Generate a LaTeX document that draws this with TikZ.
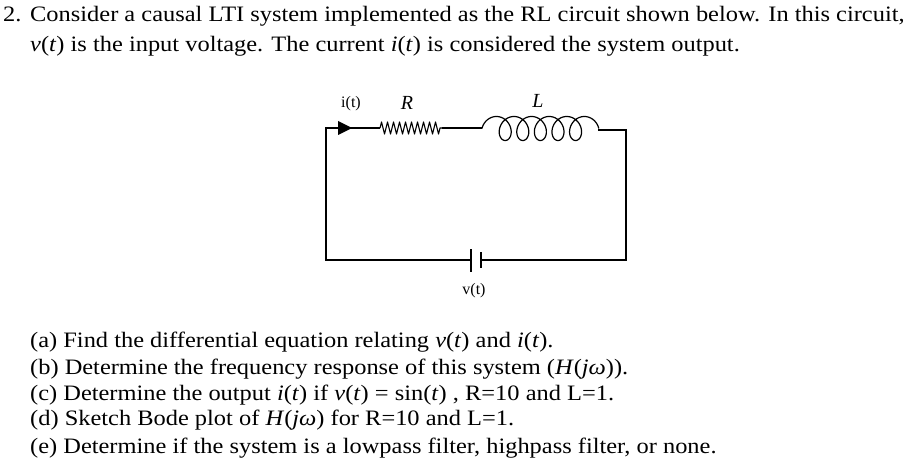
\documentclass[tikz,border=0pt]{standalone}
\usepackage{fontspec}
\setmainfont{Liberation Serif}
\newfontfamily\wide{Liberation Serif}[FakeStretch=1.11]
\usetikzlibrary{arrows.meta}
\begin{document}
\begin{tikzpicture}[x=1pt,y=1pt,
  txt/.style={anchor=base west,inner sep=0pt,font=\wide\fontsize{22}{24}\selectfont},
  lbl/.style={inner sep=0pt,font=\fontsize{16}{18}\selectfont},
  wire/.style={line width=1.3pt}]
\useasboundingbox (0,0) rectangle (909,-470);
\node[txt] (n2) at (3,-22) {2.};
\node[txt] (l1) at (30,-22) {Consider a causal LTI system implemented as the RL circuit shown below. In this circuit,};
\node[txt] (l2) at (30,-52) {\textit{v}(\textit{t}) is the input voltage. The current \textit{i}(\textit{t}) is considered the system output.};
\node[txt] (a) at (30,-347) {(a) Find the differential equation relating \textit{v}(\textit{t}) and \textit{i}(\textit{t}).};
\node[txt] (b) at (30,-374) {(b) Determine the frequency response of this system (\textit{H}(\textit{jω})).};
\node[txt] (c) at (30,-400) {(c) Determine the output \textit{i}(\textit{t}) if \textit{v}(\textit{t}) = sin(\textit{t}) , R=10 and L=1.};
\node[txt] (d) at (30,-425) {(d) Sketch Bode plot of \textit{H}(\textit{jω}) for R=10 and L=1.};
\node[txt] (e) at (30,-453) {(e) Determine if the system is a lowpass filter, highpass filter, or none.};
% circuit
\coordinate (TL) at (326,-128);
\coordinate (TR) at (626,-130);
\coordinate (BL) at (326,-260);
\coordinate (BR) at (626,-260);
\coordinate (r1) at (380,-128);
\coordinate (r2) at (442,-128);
\coordinate (i1) at (482,-128);
\coordinate (i2) at (598,-130);
\coordinate (p1) at (471,-260);
\coordinate (p2) at (481,-260);
\draw[wire] (r1) -- (TL) -- (BL) -- (p1);
\draw[wire] (p2) -- (BR) -- (TR) -- (i2);
\draw[wire] (r2) -- (i1);
\draw[line width=1.1pt,line join=round] (r1) -- ++(1.5,6)
  \foreach \k in {1,...,9}{ -- ++(3,-12) -- ++(3,12)} -- ++(3,-12) -- ++(1.5,6) -- (r2);
\draw[line width=1.2pt] plot[domain=-90:1890,samples=500,smooth] ({482+10+2.8*(rad(\x)+pi/2)+10*sin(\x)},{-128.5+12*cos(\x)});
\draw[line width=2.2pt] (471,-249) -- (471,-272);
\draw[line width=2.2pt] (481,-252) -- (481,-268);
\fill (338,-121) -- (352,-128) -- (338,-135) -- cycle;
\node[lbl] (it) at (351,-104) {i(t)};
\node[lbl,font=\fontsize{20}{22}\selectfont\itshape] (R) at (407,-103) {R};
\node[lbl,font=\fontsize{20}{22}\selectfont\itshape] (L) at (538,-101) {L};
\node[lbl] (vt) at (474,-291) {v(t)};
\end{tikzpicture}
\end{document}
